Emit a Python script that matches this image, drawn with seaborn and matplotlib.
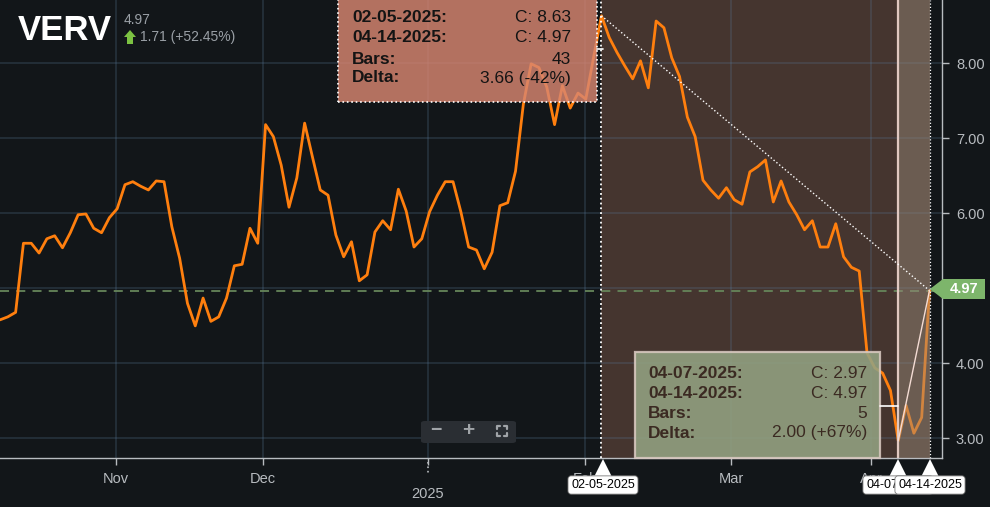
import numpy as np
import pandas as pd
import seaborn as sns
import matplotlib.pyplot as plt
from matplotlib.patches import FancyBboxPatch, Rectangle, Polygon
from matplotlib.lines import Line2D

# --- chart data ---
TICKER = 'VERV'
LAST_PRICE = '4.97'
CHANGE_TEXT = '1.71 (+52.45%)'

close = [4.58, 4.62, 4.68, 5.60, 5.60, 5.47, 5.66, 5.70, 5.54, 5.74,
         5.98, 5.99, 5.80, 5.74, 5.94, 6.06, 6.38, 6.42, 6.36, 6.31,
         6.43, 6.42, 5.82, 5.40, 4.80, 4.50, 4.87, 4.56, 4.62, 4.87,
         5.30, 5.32, 5.80, 5.60, 7.18, 7.02, 6.64, 6.08, 6.47, 7.20,
         6.75, 6.31, 6.24, 5.71, 5.42, 5.62, 5.10, 5.18, 5.75, 5.90,
         5.78, 6.32, 6.03, 5.55, 5.66, 6.02, 6.24, 6.42, 6.42, 6.02,
         5.55, 5.51, 5.26, 5.48, 6.10, 6.14, 6.56, 7.45, 7.99, 7.94,
         7.68, 7.18, 7.70, 7.40, 7.60, 7.52, 8.08, 8.63, 8.34, 8.14,
         7.96, 7.79, 8.03, 7.67, 8.56, 8.47, 8.07, 7.82, 7.28, 7.02,
         6.44, 6.31, 6.20, 6.34, 6.18, 6.12, 6.55, 6.62, 6.71, 6.15,
         6.43, 6.15, 5.98, 5.78, 5.90, 5.55, 5.55, 5.86, 5.42, 5.28,
         5.23, 4.14, 3.94, 3.87, 3.64, 2.97, 3.44, 3.07, 3.28, 4.97]
bar_idx = list(range(len(close)))

month_labels = ['Nov', 'Dec', '', 'Feb', 'Mar', 'Apr']
month_pos = [14.85, 33.67, 54.8, 74.9, 93.6, 111.5]
year_label = '2025'
y_ticks = [3, 4, 5, 6, 7, 8]
y_hidden = 5  # covered by the last-price tag

# two measurements (bar index of start / end)
m1_start, m1_end = 77, 119
m2_start, m2_end = 115, 119
m1_dates = ['02-05-2025', '04-14-2025']
m2_dates = ['04-07-2025', '04-14-2025']
m1_bars, m2_bars = 43, 5

BG = '#121619'
ORANGE = '#ff7f0e'
GRID = '#5a7a9a'
AXIS_TXT = '#b8bcc0'

df = pd.DataFrame({'bar': bar_idx, 'close': close})

sns.set_theme(style='dark')
plt.rcParams['font.family'] = ['Liberation Sans', 'DejaVu Sans']

W, H = 990, 507
fig = plt.figure(figsize=(W / 100, H / 100), dpi=100, facecolor=BG)
ax = fig.add_axes([0, 49 / H, 942 / W, 458 / H])
ax.set_facecolor(BG)


def px(x, y):
    # pixel position in the picture -> figure fraction
    return (x / W, 1 - y / H)


# shaded measurement span
ax.axvspan(m1_start, m1_end, color='#45352f', lw=0, zorder=0.2)

ax.axhline(close[-1], color='#66855a', ls=(0, (5, 4)), lw=1.3, zorder=1)
sns.lineplot(data=df, x='bar', y='close', ax=ax, color=ORANGE, lw=2.0,
             zorder=3, legend=False)

# second (short) measurement span on top of the line
ax.axvspan(m2_start, m2_end, color='#9a8c7c', alpha=0.45, lw=0, zorder=4)
ax.axvline(m2_start, color='#e0c8c0', lw=1.6, zorder=4.5)
ax.axvline(m2_end, color='white', ls=':', lw=0.9, zorder=4.5)
ax.axvline(m1_start, color='white', ls=':', lw=1.3, zorder=5)
ax.plot([m1_start, m1_end], [close[m1_start], close[m1_end]],
        color='white', ls=':', lw=1.0, zorder=5)
ax.plot([m2_start, m2_end], [close[m2_start], close[m2_end]],
        color='#f4dcd4', lw=1.0, zorder=5)

ax.set_xlim(0, 120.6)
ax.set_ylim(2.74, 8.84)
ax.set_xticks(month_pos)
ax.set_xticklabels(month_labels)
ax.set_yticks(y_ticks)
ax.set_yticklabels(['' if v == y_hidden else f'{v:.2f}' for v in y_ticks])
ax.yaxis.tick_right()
ax.set_xlabel('')
ax.set_ylabel('')
ax.set_axisbelow(True)
ax.grid(True, color=GRID, alpha=0.28, lw=1.2)
ax.tick_params(axis='x', bottom=True, colors=AXIS_TXT, length=5, width=1,
               pad=5, labelsize=10.5, labelcolor=AXIS_TXT)
ax.tick_params(axis='y', right=True, left=False, colors=AXIS_TXT, length=5,
               width=1, pad=5, labelsize=10.5, labelcolor=AXIS_TXT)
for s in ['left', 'top']:
    ax.spines[s].set_visible(False)
for s in ['right', 'bottom']:
    ax.spines[s].set_visible(True)
    ax.spines[s].set_color(AXIS_TXT)
    ax.spines[s].set_linewidth(1.0)

# year marker under the axis
fig.add_artist(Line2D([428 / W, 428 / W], [1 - 462 / H, 1 - 475 / H],
                      color=AXIS_TXT, ls=':', lw=1.2))
fig.text(*px(428, 494), year_label, ha='center', va='center',
         fontsize=10.5, color=AXIS_TXT)

# --- measurement boxes ---
fig.add_artist(Rectangle(px(338, 102), 259 / W, 103 / H, transform=fig.transFigure,
                         fc='#d88671', alpha=0.82, ec='none'))
fig.add_artist(Rectangle(px(338, 102), 259 / W, 103 / H, transform=fig.transFigure,
                         fc='none', ec='white', ls=':', lw=1.2))
fig.add_artist(Line2D([597 / W, 603 / W], [1 - 49 / H] * 2, color='white', lw=1.2))
rows1 = [(m1_dates[0] + ':', f'C: {close[m1_start]:.2f}'),
         (m1_dates[1] + ':', f'C: {close[m1_end]:.2f}'),
         ('Bars:', str(m1_bars)),
         ('Delta:', f'{close[m1_start] - close[m1_end]:.2f} '
                    f'({(close[m1_end] / close[m1_start] - 1) * 100:.0f}%)')]
for (lab, val), yy in zip(rows1, [17, 38, 59, 78]):
    fig.text(*px(352, yy), lab, ha='left', va='center', fontsize=12.5,
             fontweight='bold', color='#141414')
    fig.text(*px(571, yy), val, ha='right', va='center', fontsize=12.5,
             color='#141414')

fig.add_artist(Rectangle(px(635, 458), 245 / W, 106 / H, transform=fig.transFigure,
                         fc='#93a282', alpha=0.88, ec='#d8c8c0', lw=1.6))
fig.add_artist(Line2D([880 / W, 898 / W], [1 - 406 / H] * 2, color='white', lw=1.2))
rows2 = [(m2_dates[0] + ':', f'C: {close[m2_start]:.2f}'),
         (m2_dates[1] + ':', f'C: {close[m2_end]:.2f}'),
         ('Bars:', str(m2_bars)),
         ('Delta:', f'{close[m2_end] - close[m2_start]:.2f} '
                    f'(+{(close[m2_end] / close[m2_start] - 1) * 100:.0f}%)')]
for (lab, val), yy in zip(rows2, [373, 393, 413, 433]):
    fig.text(*px(648, yy), lab, ha='left', va='center', fontsize=12.5,
             fontweight='bold', color='#3b2a22')
    fig.text(*px(867, yy), val, ha='right', va='center', fontsize=12.5,
             color='#3b2a22')

# last price tag
tag = [px(930, 289), px(943, 279), px(985, 279), px(985, 299), px(943, 299)]
fig.add_artist(Polygon(tag, closed=True, transform=fig.transFigure,
                       fc='#7db56b', ec='none'))
fig.text(*px(964, 289), LAST_PRICE, ha='center', va='center', fontsize=10.5,
         fontweight='bold', color='white')

# bottom markers with date labels
for xm, lab in [(603, m1_dates[0]), (898, m2_dates[0]), (930, m2_dates[1])]:
    tri = [px(xm, 459), px(xm - 9, 477), px(xm + 9, 477)]
    fig.add_artist(Polygon(tri, closed=True, transform=fig.transFigure,
                           fc='white', ec='none'))
    fig.text(*px(xm, 485), lab, ha='center', va='center', fontsize=9,
             color='black',
             bbox=dict(boxstyle='round,pad=0.25', fc='white', ec='#777777', lw=0.6))

# header
fig.text(*px(18, 31), TICKER, ha='left', va='center', fontsize=25,
         fontweight='bold', color='white')
fig.text(*px(124, 20), LAST_PRICE, ha='left', va='center', fontsize=10,
         color='#9aa0a6')
arrow = [px(130, 30), px(136, 37), px(133, 37), px(133, 44), px(127, 44),
         px(127, 37), px(124, 37)]
fig.add_artist(Polygon(arrow, closed=True, transform=fig.transFigure,
                       fc='#7cc242', ec='none'))
fig.text(*px(140, 37), CHANGE_TEXT, ha='left', va='center', fontsize=10,
         color='#9aa0a6')

# zoom controls
fig.add_artist(FancyBboxPatch(px(421, 443), 95 / W, 22 / H,
                              boxstyle='round,pad=0,rounding_size=0.004',
                              transform=fig.transFigure, fc='#2a2e33', ec='none'))
fig.text(*px(436, 431), '\u2212', ha='center', va='center', fontsize=14,
         fontweight='bold', color='#a0a4a8')
fig.text(*px(468, 431), '+', ha='center', va='center', fontsize=15,
         fontweight='bold', color='#a0a4a8')
cx, cy, r, k = 502, 431, 5, 3
for sx in (-1, 1):
    for sy in (-1, 1):
        xs = [cx + sx * r, cx + sx * r, cx + sx * (r - k)]
        ys = [cy + sy * (r - k), cy + sy * r, cy + sy * r]
        fig.add_artist(Line2D([v / W for v in xs], [1 - v / H for v in ys],
                              color='#a0a4a8', lw=1.6))

fig.savefig('out.png', dpi=100, facecolor=BG)
